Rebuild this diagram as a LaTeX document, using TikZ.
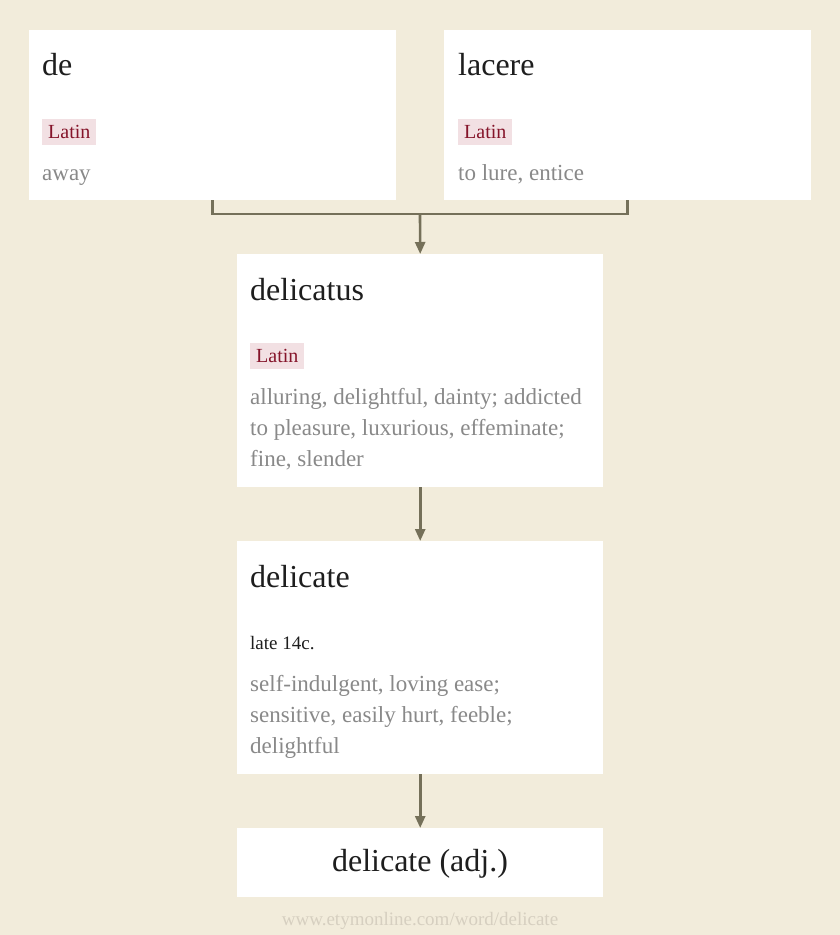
\documentclass[tikz,border=0pt]{standalone}
\usepackage{fontspec}
\setmainfont{Liberation Serif}
\usetikzlibrary{arrows.meta}
\definecolor{bgc}{HTML}{F2ECDB}
\definecolor{linec}{HTML}{757059}
\definecolor{tagbg}{HTML}{F2E0E3}
\definecolor{tagfg}{HTML}{85142A}
\definecolor{glossc}{HTML}{898989}
\definecolor{headc}{HTML}{1E1E1E}
\definecolor{footc}{HTML}{D6CFC0}
\tikzset{
  card/.style={fill=white, draw=none, inner sep=0pt, anchor=north west},
  headw/.style={anchor=base west, inner sep=0pt, font=\fontsize{32}{38}\selectfont, text=headc},
  tagbox/.style={anchor=north west, fill=tagbg, text=tagfg, inner xsep=6pt, inner ysep=0pt, minimum height=26pt, font=\fontsize{20}{24}\selectfont},
  glossline/.style={anchor=base west, inner sep=0pt, font=\fontsize{23}{31}\selectfont, text=glossc},
  dateline/.style={anchor=base west, inner sep=0pt, font=\fontsize{19}{24}\selectfont, text=headc},
  conn/.style={draw=linec, line width=2.6pt},
  arr/.style={conn, -{Triangle[width=10pt,length=12pt]}}
}
\begin{document}
\begin{tikzpicture}[x=1pt,y=-1pt]
\useasboundingbox (0,0) rectangle (840,935);
\fill[bgc] (0,0) rectangle (840,935);

% cards
\node[card, minimum width=367pt, minimum height=170pt] (de) at (29,30) {};
\node[card, minimum width=367pt, minimum height=170pt] (lacere) at (444,30) {};
\node[card, minimum width=366pt, minimum height=233pt] (delicatus) at (237,254) {};
\node[card, minimum width=366pt, minimum height=233pt] (delicate) at (237,541) {};
\node[card, minimum width=366pt, minimum height=69pt] (final) at (237,828) {};

% de
\node[headw] (deH) at (42,75.5) {de};
\node[tagbox] (deT) at (42,118.5) {Latin};
\node[glossline] (deG) at (42,180) {away};

% lacere
\node[headw] (laH) at (458,75.5) {lacere};
\node[tagbox] (laT) at (458,118.5) {Latin};
\node[glossline] (laG) at (458,180) {to lure, entice};

% delicatus
\node[headw] (dsH) at (250,300.5) {delicatus};
\node[tagbox] (dsT) at (250,342.5) {Latin};
\node[glossline] (dsG1) at (250,404) {alluring, delightful, dainty; addicted};
\node[glossline] (dsG2) at (250,435) {to pleasure, luxurious, effeminate;};
\node[glossline] (dsG3) at (250,466) {fine, slender};

% delicate
\node[headw] (dcH) at (250,587.5) {delicate};
\node[dateline] (dcD) at (250,649) {late 14c.};
\node[glossline] (dcG1) at (250,691) {self-indulgent, loving ease;};
\node[glossline] (dcG2) at (250,722) {sensitive, easily hurt, feeble;};
\node[glossline] (dcG3) at (250,753) {delightful};

% final
\node[anchor=base, inner sep=0pt, font=\fontsize{32}{38}\selectfont, text=headc] (fiH) at (420,871.5) {delicate (adj.)};

% footer
\node[anchor=base, inner sep=0pt, font=\fontsize{19}{24}\selectfont, text=footc] (foot) at (420,925) {www.etymonline.com/word/delicate};

% connectors
\coordinate (j) at (420,214);
\draw[conn] (de.south) |- (j) -| (lacere.south);
\draw[arr] (j) -- (delicatus.north);
\draw[arr] (delicatus.south) -- (delicate.north);
\draw[arr] (delicate.south) -- (final.north);
\end{tikzpicture}
\end{document}
